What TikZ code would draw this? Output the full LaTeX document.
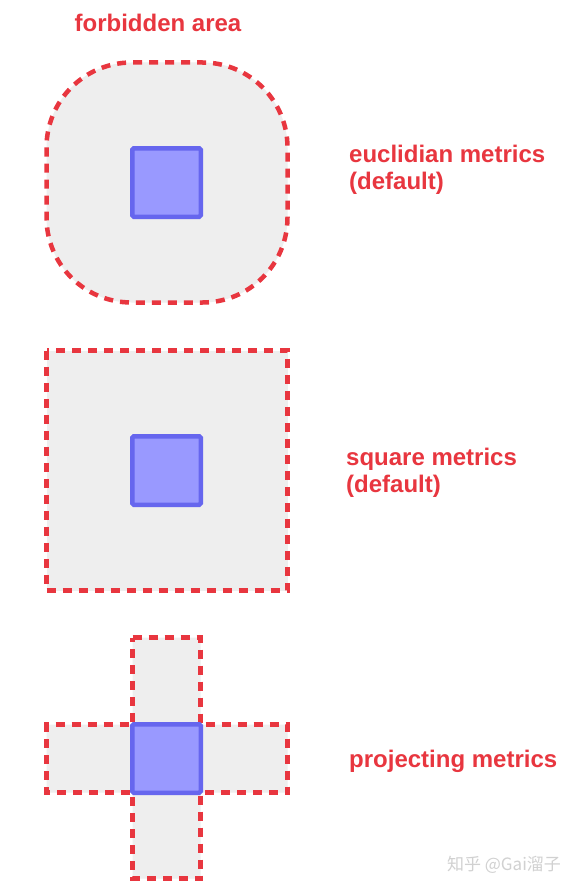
\documentclass[tikz,border=0pt]{standalone}
\usepackage{fontspec}
\setmainfont{Liberation Sans}
\newfontfamily\cjkfont{Noto Sans CJK SC}
\usetikzlibrary{positioning}
\colorlet{background}{white}
\definecolor{zoneRed}{HTML}{E8363F}
\definecolor{zoneGray}{HTML}{EEEEEE}
\definecolor{cellBlue}{HTML}{9999FF}
\definecolor{cellEdge}{HTML}{6666EE}
\tikzset{
  zone/.style={draw=zoneRed,fill=zoneGray,line width=4.5pt,dash pattern=on 9pt off 7pt},
  cell/.style={draw=cellEdge,fill=cellBlue,line width=4.5pt,rounded corners=1.5pt,minimum size=68.5pt,inner sep=0pt},
  metricText/.style={text=zoneRed,font=\fontsize{24}{27}\selectfont\bfseries,align=left,anchor=west,inner sep=0pt}
}

\begin{document}
\begin{tikzpicture}[x=1pt,y=-1pt]
		\useasboundingbox[fill=background] (0,0) rectangle (578,891);
		\node[metricText,anchor=center] (forbiddenText) at (158,22.5) {forbidden area};
		
		\draw[zone,rounded corners=85pt] (46.5,62.5) rectangle (287.5,302.5);% euclidian zone
		\node[cell] (euclidCell) at (166.5,182.5) {};
		\node[metricText] (euclidText) at (349,170) {euclidian metrics\\(default)};
		
		\draw[zone] (46.5,350.5) rectangle (287.5,590.5);% square zone
		\node[cell] (squareCell) at (166.5,470.5) {};
		\node[metricText] (squareText) at (346,473) {square metrics\\(default)};
		
		\draw[zone] (132.5,637.5) -- (200.5,637.5) -- (200.5,724.5) -- (287.5,724.5) -- (287.5,792.5) -- (200.5,792.5) -- (200.5,878.5)
			-- (132.5,878.5) -- (132.5,792.5) -- (46.5,792.5) -- (46.5,724.5) -- (132.5,724.5) -- cycle;% projecting zone
		\node[cell] (projectCell) at (166.5,758.5) {};
		\node[metricText] (projectText) at (349,761) {projecting metrics};
		
		\node[text=black!18,font=\cjkfont\fontsize{17}{19}\selectfont,inner sep=0pt] (watermark) at (504,865) {知乎 @Gai溜子};
\end{tikzpicture}
\end{document}
